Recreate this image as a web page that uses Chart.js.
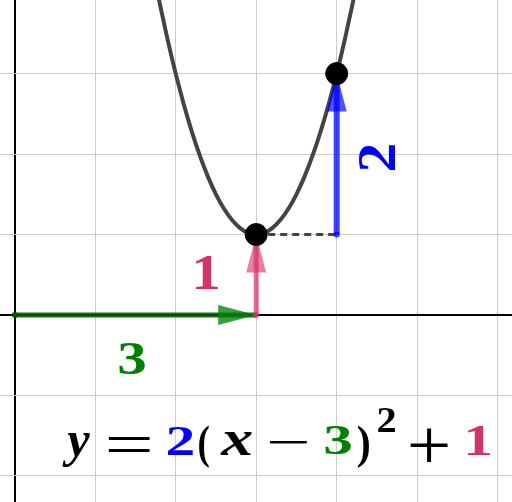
<!DOCTYPE html>
<html>
<head>
<meta charset="utf-8">
<script src="https://cdn.jsdelivr.net/npm/chart.js@4/dist/chart.umd.min.js"></script>
<style>
  html, body { margin: 0; padding: 0; background: #ffffff; }
  #wrap { position: relative; width: 512px; height: 502px; }
</style>
</head>
<body>
<div id="wrap"><canvas id="c"></canvas></div>
<script>
// ---------- data ----------
const xTicks = [0, 1, 2, 3, 4, 5, 6];
const yTicks = [-2, -1, 0, 1, 2, 3];

// parabola
const curveX = [1.7, 1.8, 1.9, 2.0, 2.1, 2.2, 2.3, 2.4, 2.5, 2.6, 2.7, 2.8, 2.9, 3.0,
                3.1, 3.2, 3.3, 3.4, 3.5, 3.6, 3.7, 3.8, 3.9, 4.0, 4.1, 4.2, 4.3];
const curveY = [4.38, 3.88, 3.42, 3.0, 2.62, 2.28, 1.98, 1.72, 1.5, 1.32, 1.18, 1.08, 1.02, 1.0,
                1.02, 1.08, 1.18, 1.32, 1.5, 1.72, 1.98, 2.28, 2.62, 3.0, 3.42, 3.88, 4.38];

// marked points (vertex and one step right)
const pointX = [3, 4];
const pointY = [1, 3];

// dashed horizontal step
const dashX = [3, 4];
const dashY = [1, 1];

// arrows: horizontal shift 3, vertical shift 1, stretch 2
const shiftArrowX = [0, 3];
const shiftArrowY = [0, 0];
const liftArrowX = [3, 3];
const liftArrowY = [0, 1];
const stretchArrowX = [4, 4];
const stretchArrowY = [1, 3];

// text
const shiftLabel = '3';
const liftLabel = '1';
const stretchLabel = '2';
const equationParts = ['y', '=', '2', '(', 'x', '\u2212', '3', ')', '2', '+', '1'];

// ---------- helpers ----------
const zip = (xs, ys) => xs.map((x, i) => ({ x: x, y: ys[i] }));

const GREEN = '#008000';
const PINK = '#d0356a';
const BLUE = '#0000ff';

function drawFit(ctx, text, font, color, x0, y0, x1, y1, rotated) {
  ctx.save();
  ctx.font = font;
  ctx.textAlign = 'left';
  ctx.textBaseline = 'alphabetic';
  const m = ctx.measureText(text);
  const L = m.actualBoundingBoxLeft, R = m.actualBoundingBoxRight;
  const A = m.actualBoundingBoxAscent, D = m.actualBoundingBoxDescent;
  const w = Math.max(L + R, 0.1), h = Math.max(A + D, 0.1);
  ctx.fillStyle = color;
  if (!rotated) {
    const sx = (x1 - x0) / w, sy = (y1 - y0) / h;
    ctx.translate(x0 + sx * L, y0 + sy * A);
    ctx.scale(sx, sy);
  } else {
    const sx = (y1 - y0) / w, sy = (x1 - x0) / h;
    ctx.translate(x0 + sy * A, y1 - sx * L);
    ctx.rotate(-Math.PI / 2);
    ctx.scale(sx, sy);
  }
  ctx.fillText(text, 0, 0);
  ctx.restore();
}

const arrowHeads = {
  id: 'arrowHeads',
  afterDatasetDraw(chart, args) {
    const ds = chart.data.datasets[args.index];
    if (!ds.headColor) return;
    const pts = args.meta.data;
    const a = pts[pts.length - 2], b = pts[pts.length - 1];
    const ang = Math.atan2(b.y - a.y, b.x - a.x);
    const len = 38, half = 10;
    const ctx = chart.ctx;
    ctx.save();
    ctx.translate(b.x, b.y);
    ctx.rotate(ang);
    ctx.beginPath();
    ctx.moveTo(0, 0);
    ctx.lineTo(-len, -half);
    ctx.lineTo(-len, half);
    ctx.closePath();
    ctx.fillStyle = ds.headColor;
    ctx.fill();
    ctx.restore();
  }
};

const texts = {
  id: 'texts',
  afterDraw(chart) {
    const ctx = chart.ctx;
    const serif = '"Liberation Serif", "DejaVu Serif", serif';
    const bold = 'bold 100px ' + serif;
    const reg = '100px ' + serif;
    const ital = 'bold italic 100px ' + serif;
    // labels
    drawFit(ctx, shiftLabel, bold, GREEN, 119, 344, 145, 375, false);
    drawFit(ctx, liftLabel, bold, PINK, 196, 255, 218, 289, false);
    drawFit(ctx, stretchLabel, bold, BLUE, 359, 145, 396, 170, true);
    // equation y = 2(x - 3)^2 + 1
    const p = equationParts;
    drawFit(ctx, p[0], ital, '#000', 62, 432, 90, 466, false);
    drawFit(ctx, p[1], reg, '#000', 108, 436, 150, 451, false);
    drawFit(ctx, p[2], bold, BLUE, 168, 427, 193, 455, false);
    drawFit(ctx, p[3], bold, '#000', 199, 425, 209, 468, false);
    drawFit(ctx, p[4], ital, '#000', 220, 432, 252, 455, false);
    drawFit(ctx, p[5], reg, '#000', 269, 441, 307, 444, false);
    drawFit(ctx, p[6], bold, GREEN, 325, 427, 351, 455, false);
    drawFit(ctx, p[7], bold, '#000', 358, 425, 369, 468, false);
    drawFit(ctx, p[8], bold, '#000', 378, 408, 395, 432, false);
    drawFit(ctx, p[9], reg, '#000', 410, 428, 448, 462, false);
    drawFit(ctx, p[10], bold, PINK, 468, 426, 490, 455, false);
  }
};

const gridColor = c => (c.tick && c.tick.value === 0) ? '#000000' : '#cccccc';
const gridWidth = c => (c.tick && c.tick.value === 0) ? 2 : 1;

new Chart(document.getElementById('c'), {
  type: 'scatter',
  data: {
    datasets: [
      {
        data: zip(pointX, pointY),
        pointRadius: 11,
        pointBackgroundColor: '#000',
        pointBorderColor: '#000',
        pointBorderWidth: 1,
        showLine: false,
        clip: false
      },
      {
        data: zip(liftArrowX, liftArrowY),
        showLine: true,
        borderColor: 'rgba(214,51,108,0.72)',
        borderWidth: 5,
        pointRadius: [3, 0],
        pointBackgroundColor: 'rgba(214,51,108,0.72)',
        pointBorderWidth: 0,
        headColor: 'rgba(214,51,108,0.62)'
      },
      {
        data: zip(stretchArrowX, stretchArrowY),
        showLine: true,
        borderColor: 'rgba(0,0,255,0.75)',
        borderWidth: 6,
        pointRadius: [3, 0],
        pointBackgroundColor: 'rgba(0,0,255,0.75)',
        pointBorderWidth: 0,
        headColor: 'rgba(0,0,255,0.68)'
      },
      {
        data: zip(shiftArrowX, shiftArrowY),
        showLine: true,
        borderColor: 'rgba(0,90,0,0.88)',
        borderWidth: 5,
        pointRadius: [3, 0],
        pointBackgroundColor: 'rgba(0,90,0,0.88)',
        pointBorderWidth: 0,
        headColor: 'rgba(0,128,10,0.78)'
      },
      {
        data: zip(dashX, dashY),
        showLine: true,
        borderColor: '#444444',
        borderWidth: 3,
        borderDash: [7, 5],
        pointRadius: 0
      },
      {
        data: zip(curveX, curveY),
        showLine: true,
        borderColor: '#444444',
        borderWidth: 4,
        cubicInterpolationMode: 'monotone',
        pointRadius: 0
      }
    ]
  },
  options: {
    responsive: true,
    maintainAspectRatio: false,
    animation: false,
    events: [],
    layout: { padding: 0, autoPadding: false },
    plugins: { legend: { display: false }, tooltip: { enabled: false } },
    scales: {
      x: {
        type: 'linear',
        min: -0.183,
        max: 6.178,
        afterBuildTicks: s => { s.ticks = xTicks.map(v => ({ value: v })); },
        ticks: { display: false },
        border: { display: false },
        grid: { drawTicks: false, color: gridColor, lineWidth: gridWidth }
      },
      y: {
        type: 'linear',
        min: -2.324,
        max: 3.915,
        afterBuildTicks: s => { s.ticks = yTicks.map(v => ({ value: v })); },
        ticks: { display: false },
        border: { display: false },
        grid: { drawTicks: false, color: gridColor, lineWidth: gridWidth }
      }
    }
  },
  plugins: [arrowHeads, texts]
});
</script>
</body>
</html>
